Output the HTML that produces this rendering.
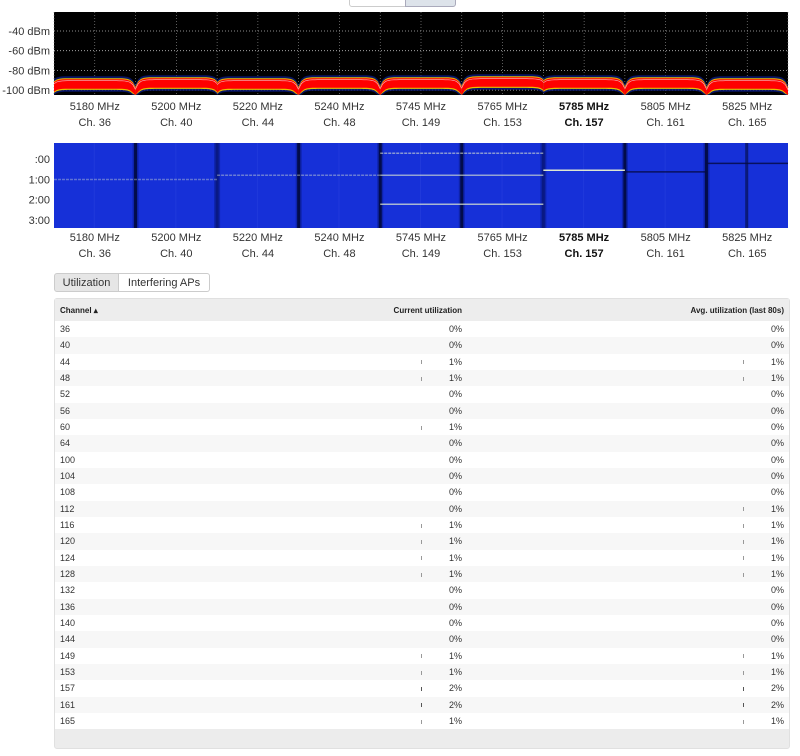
<!DOCTYPE html>
<html><head><meta charset="utf-8">
<style>
body{margin:0;width:800px;height:756px;background:#fff;font-family:"Liberation Sans",sans-serif;position:relative;overflow:hidden;color:#333}
.abs{position:absolute}
.flab{position:absolute;width:82px;text-align:center;font-size:11px;color:#333;line-height:16px}
.flab.b{font-weight:bold;color:#111}
table{border-collapse:collapse;width:734px;font-size:9px;table-layout:fixed}
td,th{padding:0 5px;height:16.33px}
th{height:22px;text-align:left;font-size:8px;font-weight:bold;color:#222}
.r{text-align:right}
.mk{display:inline-block;width:1px;height:4px;background:#999;margin-right:27px;vertical-align:middle}
</style></head><body>
<div class="abs" style="left:349px;top:-8px;width:104px;height:13px;border:1px solid #ccc;border-radius:3px;background:#fff"></div>
<div class="abs" style="left:405px;top:-8px;width:49px;height:13px;border:1px solid #aab;border-radius:0 3px 3px 0;background:#dde3ea"></div>

<svg id="spec" class="abs" style="left:0;top:0" width="800" height="270"></svg>
<div id="labels"></div>

<div class="abs" style="left:54px;top:273px;height:19px;display:flex;font-size:11px">
 <div style="width:63px;border:1px solid #ccc;background:#e6e6e6;line-height:18px;text-align:center;border-radius:3px 0 0 3px">Utilization</div>
 <div style="width:90px;border:1px solid #ccc;border-left:none;background:#fff;line-height:18px;text-align:center;border-radius:0 3px 3px 0">Interfering APs</div>
</div>

<div class="abs" style="left:54px;top:298px;width:734px;height:449px;background:#ececec;border-radius:3px;border:1px solid #e0e0e0">
<table id="tbl">
<colgroup><col style="width:250px"><col style="width:162px"><col style="width:322px"></colgroup>
<tr style="background:#ededed"><th>Channel ▴</th><th class="r">Current utilization</th><th class="r">Avg. utilization (last 80s)</th></tr>
</table>
</div>

<script>
const freqs=["5180","5200","5220","5240","5745","5765","5785","5805","5825"];
const chans=["36","40","44","48","149","153","157","161","165"];
const floorDbm=[-94,-93,-94,-93,-93,-92,-93,-93,-94];
const boundaryDip=[9,4,9,9,9,3,9,9,9];
const yTicks=[-40,-60,-80,-100];
const tTicks=[":00","1:00","2:00","3:00"];
const tblChannels=[36,40,44,48,52,56,60,64,100,104,108,112,116,120,124,128,132,136,140,144,149,153,157,161,165];
const curUtil=[0,0,1,1,0,0,1,0,0,0,0,0,1,1,1,1,0,0,0,0,1,1,2,2,1];
const avgUtil=[0,0,1,1,0,0,0,0,0,0,0,1,1,1,1,1,0,0,0,0,1,1,2,2,1];
const wfLines=[[0,1,0.43,0.35],[2,3,0.38,0.4],[4,5,0.12,0.55],[4,5,0.38,0.6],[4,5,0.72,0.7],[6,6,0.32,0.95],[7,7,0.34,-1],[8,8,0.24,-1]];

const NS="http://www.w3.org/2000/svg";
const svg=document.getElementById('spec');
const X0=54,W=734,CW=W/9;
const sy=d=>31+(-40-d)*0.985;
const cx=i=>X0+CW*(i+0.5);
function el(t,a,p){const e=document.createElementNS(NS,t);for(const k in a)e.setAttribute(k,a[k]);(p||svg).appendChild(e);return e;}
let r=el('rect',{x:X0,y:12,width:W,height:83,fill:'#000'});

yTicks.forEach(v=>{let l=el('line',{x1:X0,x2:X0+W,y1:sy(v),y2:sy(v),stroke:'#bbb','stroke-dasharray':'1,2','stroke-width':0.8});
});
for(let i=0;i<=18;i++){let x=X0+CW/2*i;el('line',{x1:x,x2:x,y1:12,y2:95,stroke:'#999','stroke-dasharray':'1,2','stroke-width':0.6});}
chans.forEach((c,i)=>{
 const x0=X0+CW*i,f=floorDbm[i];
 const dl=i==0?3:boundaryDip[i-1],dr=boundaryDip[i];
 let top=[],bot=[];
 for(let k=0;k<=30;k++){const t=k/30,x=x0+CW*t;
  const edge=Math.max(Math.exp(-t*25)*dl,Math.exp(-(1-t)*25)*dr);
  const y=sy(f)+edge;top.push([x,y-5]);bot.push([x,Math.min(95,y+4.5)]);}
 const pts=s=>s.map(p=>p[0].toFixed(1)+','+p[1].toFixed(1)).join(' ');
 el('polygon',{points:pts(top.map(p=>[p[0],p[1]-3]))+' '+pts(bot.map(p=>[p[0],Math.min(95,p[1]+3)]).reverse()),fill:'#0a1a80',opacity:0.8});
 el('polygon',{points:pts(top.map(p=>[p[0],p[1]-1]))+' '+pts(bot.map(p=>[p[0],Math.min(95,p[1]+1.2)]).reverse()),fill:'#e8c000'});
 let b=el('polygon',{points:pts(top)+' '+pts(bot.slice().reverse()),fill:'#f00'});
 
 el('polyline',{points:pts(top.map(p=>[p[0],p[1]+1.5])),fill:'none',stroke:'#f4c0c0','stroke-width':0.6});
});
yTicks.forEach(v=>{let t=el('text',{x:50,y:sy(v)+4,'text-anchor':'end','font-size':11,fill:'#333','font-family':'Liberation Sans'});t.textContent=v+' dBm';
});
const WY=143,WH=85;
let w=el('rect',{x:X0,y:WY,width:W,height:WH,fill:'#1630d8'});

for(let i=0;i<9;i++){el('rect',{x:X0+CW*i+CW*0.5-1,y:WY,width:1,height:WH,fill:'#3048e0',opacity:0.4});}
for(let i=1;i<9;i++){const d=boundaryDip[i-1];el('rect',{x:X0+CW*i-3,y:WY,width:6,height:WH,fill:'#0a1a90',opacity:0.6});el('rect',{x:X0+CW*i-1.5,y:WY,width:3,height:WH,fill:'#000838',opacity:d>5?0.85:0.35});}
el('rect',{x:X0+CW*8.5-2,y:WY,width:3,height:WH,fill:'#000838',opacity:0.6});
wfLines.forEach(l=>{const x0=X0+CW*l[0],x1=X0+CW*(l[1]+1),y=WY+WH*l[2];
 let e=el('line',{x1:x0,x2:x1,y1:y,y2:y,stroke:l[3]>0?'#e8f0d0':'#050a40','stroke-width':1.5,opacity:l[3]>0?l[3]:0.8,'stroke-dasharray':l[3]>0&&l[3]<0.6?'3,1':'none'});
 });
tTicks.forEach((t,i)=>{let e=el('text',{x:50,y:WY+16+i*20.3+4,'text-anchor':'end','font-size':11,fill:'#333','font-family':'Liberation Sans'});e.textContent=t;
});
const lab=document.getElementById('labels');
[99,230].forEach(top=>freqs.forEach((f,i)=>{const d=document.createElement('div');
 d.className='flab'+(i==6?' b':'');d.style.left=(cx(i)-41)+'px';d.style.top=top+'px';
 d.innerHTML=f+' MHz<br>Ch. '+chans[i];
 
 
 lab.appendChild(d);}));
const tb=document.getElementById('tbl');
tblChannels.forEach((c,i)=>{const tr=document.createElement('tr');
 const bg=i%2?'#f7f7f7':'#fff';
 const m=v=>v>0?'<span class="mk"'+(v>1?' style="background:#555"':'')+'></span>':'';
 tr.innerHTML='<td style="background:'+bg+'">'+c+'</td><td class="r" style="background:'+bg+'">'+m(curUtil[i])+curUtil[i]+'%</td><td class="r" style="background:'+bg+'">'+m(avgUtil[i])+avgUtil[i]+'%</td>';
 
 
 tb.appendChild(tr);});
</script>
</body></html>
